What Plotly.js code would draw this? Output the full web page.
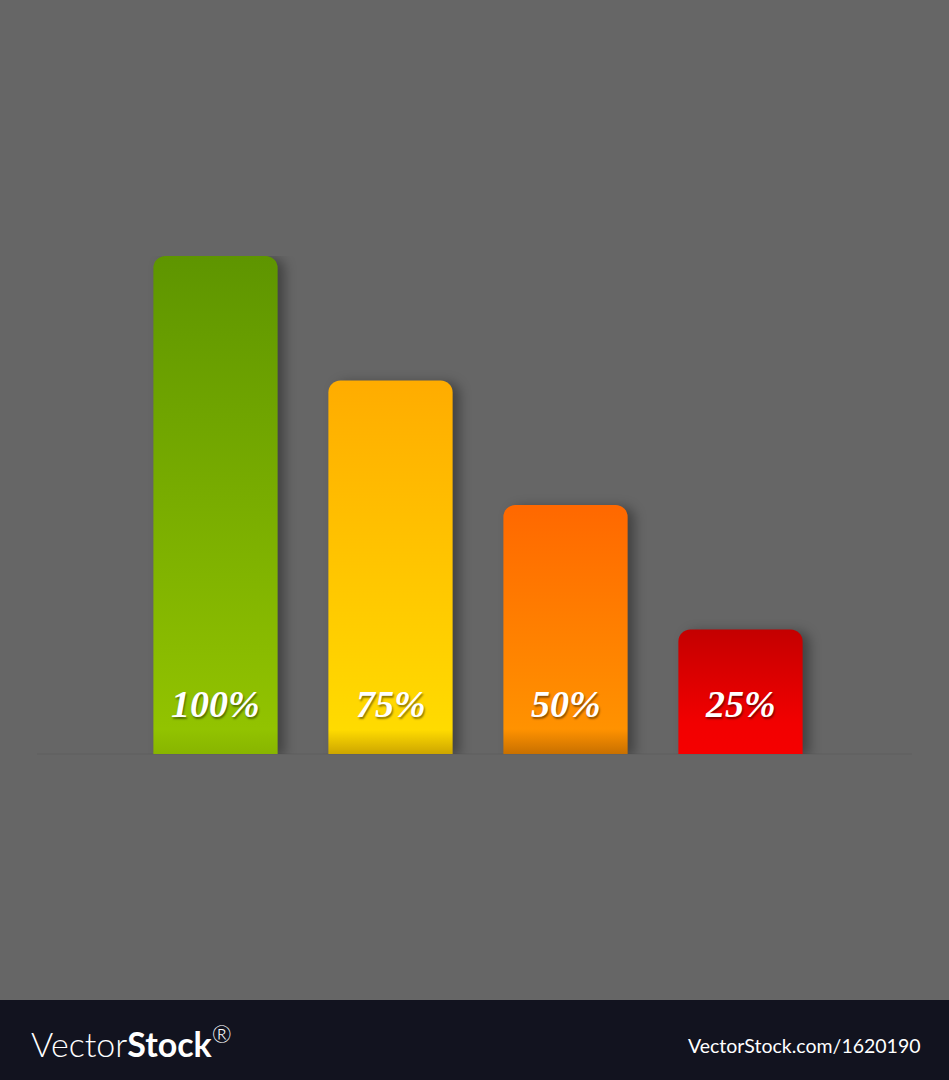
<!DOCTYPE html>
<html>
<head>
<meta charset="utf-8">
<script src="https://cdn.plot.ly/plotly-3.0.1.min.js"></script>
<style>
  html, body { margin: 0; padding: 0; background: #666666; }
  #chart { width: 949px; height: 1080px; }
</style>
</head>
<body>
<div id="chart"></div>
<script>
// ---- data ----
const categories = ['A', 'B', 'C', 'D'];
const values = [100, 75, 50, 25];
const valueLabels = ['100%', '75%', '50%', '25%'];
const labelLevel = [10, 10, 10, 10];
const brandText = 'Vector<b>Stock</b><sup>®</sup>';
const idText = 'VectorStock.com/1620190';

// ---- styles ----
const baseColors = ['#7aaa00', '#ffc800', '#ff7e00', '#e00000'];
const gradients = [
  [['0', '#5e9500'], ['0.95', '#92c300'], ['1', '#88b500']],
  [['0', '#ffac00'], ['0.935', '#ffdb00'], ['1', '#cda600']],
  [['0', '#ff6800'], ['0.90', '#ff9200'], ['1', '#c87000']],
  [['0', '#c40000'], ['0.75', '#f20000'], ['1', '#f50000']]
];

const trace = {
  type: 'bar',
  x: categories,
  y: values,
  marker: { color: baseColors, cornerradius: 12, line: { width: 0 } },
  hoverinfo: 'none'
};

const annotations = categories.map((c, i) => ({
  x: c, y: labelLevel[i], xref: 'x', yref: 'y',
  text: '<i><b>' + valueLabels[i] + '</b></i>',
  showarrow: false,
  font: { family: 'Liberation Serif, DejaVu Serif, serif', size: 38, color: '#ffffff',
          shadow: '1px 2px 2px rgba(0,0,0,0.45)' },
  xanchor: 'center', yanchor: 'middle'
}));

annotations.push({
  x: -0.142, y: -0.578, xref: 'paper', yref: 'paper',
  text: brandText, showarrow: false, xanchor: 'left', yanchor: 'middle',
  font: { family: 'Lato, Open Sans, sans-serif', size: 34, color: '#ffffff', weight: 300 }
});
annotations.push({
  x: 1.136, y: -0.586, xref: 'paper', yref: 'paper',
  text: idText, showarrow: false, xanchor: 'right', yanchor: 'middle',
  font: { family: 'Lato, Open Sans, sans-serif', size: 19.5, color: '#ffffff' }
});

const layout = {
  width: 949, height: 1080,
  margin: { l: 128, r: 121, t: 256, b: 326 },
  paper_bgcolor: '#666666',
  plot_bgcolor: '#666666',
  showlegend: false,
  bargap: 0.29,
  xaxis: { type: 'category', range: [-0.5, 3.5], visible: false, fixedrange: true },
  yaxis: { range: [0, 100], visible: false, fixedrange: true },
  shapes: [
    { type: 'line', xref: 'paper', yref: 'paper', x0: -0.13, x1: 1.12, y0: 0, y1: 0,
      line: { color: '#5e5e5e', width: 1 }, layer: 'below' },
    { type: 'rect', xref: 'paper', yref: 'paper', x0: -0.2, x1: 1.2, y0: -0.494, y1: -0.66,
      fillcolor: '#12131f', line: { width: 0 }, layer: 'above' }
  ],
  annotations: annotations
};

Plotly.newPlot('chart', [trace], layout, { staticPlot: true, displayModeBar: false }).then(gd => {
  const svg = gd.querySelector('.main-svg');
  let defs = svg.querySelector('defs');
  const ns = 'http://www.w3.org/2000/svg';
  gradients.forEach((stops, i) => {
    const lg = document.createElementNS(ns, 'linearGradient');
    lg.setAttribute('id', 'barGrad' + i);
    lg.setAttribute('x1', '0'); lg.setAttribute('y1', '0');
    lg.setAttribute('x2', '0'); lg.setAttribute('y2', '1');
    stops.forEach(s => {
      const st = document.createElementNS(ns, 'stop');
      st.setAttribute('offset', s[0]);
      st.setAttribute('stop-color', s[1]);
      lg.appendChild(st);
    });
    defs.appendChild(lg);
  });
  const paths = gd.querySelectorAll('.bars .point path');
  paths.forEach((p, i) => {
    p.style.fill = 'url(#barGrad' + i + ')';
    p.style.filter = 'drop-shadow(7px 2px 6px rgba(0,0,0,0.35))';
  });
});
</script>
</body>
</html>
